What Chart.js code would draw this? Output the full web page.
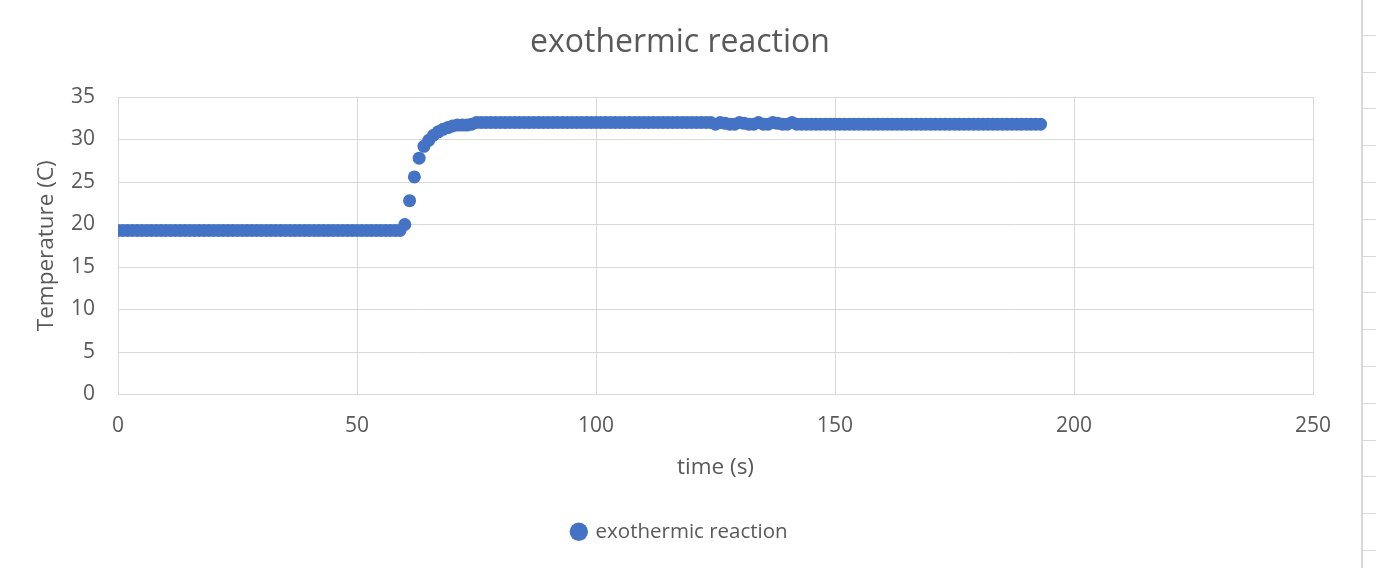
<!DOCTYPE html>
<html>
<head>
<meta charset="utf-8">
<script src="https://cdn.jsdelivr.net/npm/chart.js@4"></script>
<style>
  html, body { margin: 0; padding: 0; background: #fff; }
  #wrap { position: relative; width: 1376px; height: 568px; }
  #sheetEdge {
    position: absolute; left: 1361px; top: 0; width: 15px; height: 568px;
    border-left: 2px solid #d9d9d9;
    background-image: repeating-linear-gradient(to bottom, transparent 0, transparent 35.8px, #d9d9d9 35.8px, #d9d9d9 36.8px);
    background-position: 0 -1px;
  }
</style>
</head>
<body>
<div id="wrap">
  <canvas id="chart" width="1376" height="568"></canvas>
  <div id="sheetEdge"></div>
</div>
<script>
// time (s)
var times = [
  0, 1, 2, 3, 4, 5, 6, 7, 8, 9, 10, 11, 12, 13, 14, 15, 16, 17, 18, 19,
  20, 21, 22, 23, 24, 25, 26, 27, 28, 29, 30, 31, 32, 33, 34, 35, 36, 37, 38, 39,
  40, 41, 42, 43, 44, 45, 46, 47, 48, 49, 50, 51, 52, 53, 54, 55, 56, 57, 58, 59,
  60, 61, 62, 63, 64, 65, 66, 67, 68, 69, 70, 71, 72, 73, 74, 75, 76, 77, 78, 79,
  80, 81, 82, 83, 84, 85, 86, 87, 88, 89, 90, 91, 92, 93, 94, 95, 96, 97, 98, 99,
  100, 101, 102, 103, 104, 105, 106, 107, 108, 109, 110, 111, 112, 113, 114, 115, 116, 117, 118, 119,
  120, 121, 122, 123, 124, 125, 126, 127, 128, 129, 130, 131, 132, 133, 134, 135, 136, 137, 138, 139,
  140, 141, 142, 143, 144, 145, 146, 147, 148, 149, 150, 151, 152, 153, 154, 155, 156, 157, 158, 159,
  160, 161, 162, 163, 164, 165, 166, 167, 168, 169, 170, 171, 172, 173, 174, 175, 176, 177, 178, 179,
  180, 181, 182, 183, 184, 185, 186, 187, 188, 189, 190, 191, 192, 193
];

// Temperature (C)
var temps = [
  19.3, 19.3, 19.3, 19.3, 19.3, 19.3, 19.3, 19.3, 19.3, 19.3, 19.3, 19.3, 19.3, 19.3, 19.3, 19.3, 19.3, 19.3, 19.3, 19.3,
  19.3, 19.3, 19.3, 19.3, 19.3, 19.3, 19.3, 19.3, 19.3, 19.3, 19.3, 19.3, 19.3, 19.3, 19.3, 19.3, 19.3, 19.3, 19.3, 19.3,
  19.3, 19.3, 19.3, 19.3, 19.3, 19.3, 19.3, 19.3, 19.3, 19.3, 19.3, 19.3, 19.3, 19.3, 19.3, 19.3, 19.3, 19.3, 19.3, 19.3,
  20.0, 22.8, 25.6, 27.8, 29.2, 29.9, 30.5, 30.9, 31.2, 31.4, 31.6, 31.7, 31.7, 31.7, 31.8, 32.0, 32.0, 32.0, 32.0, 32.0,
  32.0, 32.0, 32.0, 32.0, 32.0, 32.0, 32.0, 32.0, 32.0, 32.0, 32.0, 32.0, 32.0, 32.0, 32.0, 32.0, 32.0, 32.0, 32.0, 32.0,
  32.0, 32.0, 32.0, 32.0, 32.0, 32.0, 32.0, 32.0, 32.0, 32.0, 32.0, 32.0, 32.0, 32.0, 32.0, 32.0, 32.0, 32.0, 32.0, 32.0,
  32.0, 32.0, 32.0, 32.0, 32.0, 31.8, 32.0, 31.9, 31.8, 31.8, 32.0, 31.9, 31.8, 31.8, 32.0, 31.8, 31.8, 32.0, 31.9, 31.8,
  31.8, 32.0, 31.8, 31.8, 31.8, 31.8, 31.8, 31.8, 31.8, 31.8, 31.8, 31.8, 31.8, 31.8, 31.8, 31.8, 31.8, 31.8, 31.8, 31.8,
  31.8, 31.8, 31.8, 31.8, 31.8, 31.8, 31.8, 31.8, 31.8, 31.8, 31.8, 31.8, 31.8, 31.8, 31.8, 31.8, 31.8, 31.8, 31.8, 31.8,
  31.8, 31.8, 31.8, 31.8, 31.8, 31.8, 31.8, 31.8, 31.8, 31.8, 31.8, 31.8, 31.8, 31.8
];

var points = times.map(function (t, i) { return { x: t, y: temps[i] }; });

var textColor = '#595959';
var gridColor = '#d9d9d9';
var fontFamily = '"Open Sans", sans-serif';

Chart.defaults.font.family = fontFamily;
Chart.defaults.color = textColor;

var ctx = document.getElementById('chart').getContext('2d');
var chart = new Chart(ctx, {
    type: 'scatter',
    data: {
        datasets: [{
            label: 'exothermic reaction',
            data: points,
            backgroundColor: '#4472c4',
            borderColor: '#4472c4',
            pointRadius: 6.5,
            pointHoverRadius: 6.5,
            borderWidth: 0,
            showLine: false
        }]
    },
    options: {
        responsive: false,
        animation: false,
        layout: {
            padding: { left: 0, right: 16, top: 0, bottom: 16 }
        },
        plugins: {
            title: {
                display: true,
                text: 'exothermic reaction',
                color: textColor,
                font: { size: 32, weight: 'normal' },
                padding: { top: 24, bottom: 34.6 }
            },
            legend: {
                position: 'bottom',
                labels: {
                    usePointStyle: true,
                    pointStyle: 'circle',
                    boxWidth: 13,
                    boxHeight: 13,
                    padding: 10,
                    color: textColor,
                    font: { size: 20.5 }
                }
            },
            tooltip: { enabled: false }
        },
        scales: {
            x: {
                type: 'linear',
                min: 0,
                max: 250,
                ticks: {
                    stepSize: 50,
                    padding: 19,
                    color: textColor,
                    font: { size: 21 }
                },
                grid: { color: gridColor, lineWidth: 1, drawTicks: false },
                border: { color: gridColor, width: 1 },
                title: {
                    display: true,
                    text: 'time (s)',
                    color: textColor,
                    font: { size: 22.5 },
                    padding: { top: 0, bottom: 30.5 }
                },
                afterFit: function (scale) { scale.height = 117; }
            },
            y: {
                min: 0,
                max: 35,
                ticks: {
                    stepSize: 5,
                    padding: 23,
                    color: textColor,
                    font: { size: 21 }
                },
                grid: { color: gridColor, lineWidth: 1, drawTicks: false },
                border: { color: gridColor, width: 1 },
                title: {
                    display: true,
                    text: 'Temperature (C)',
                    color: textColor,
                    font: { size: 22.5 },
                    padding: { top: 33.5, bottom: 0 }
                },
                afterFit: function (scale) { scale.width = 118; }
            },
            // empty right-hand margin, so title and legend centre like the original
            yRight: {
                axis: 'y',
                position: 'right',
                min: 0,
                max: 35,
                ticks: { display: false },
                grid: { display: false, drawTicks: false },
                border: { display: false },
                afterFit: function (scale) { scale.width = 47; }
            }
        }
    }
});
</script>
</body>
</html>
